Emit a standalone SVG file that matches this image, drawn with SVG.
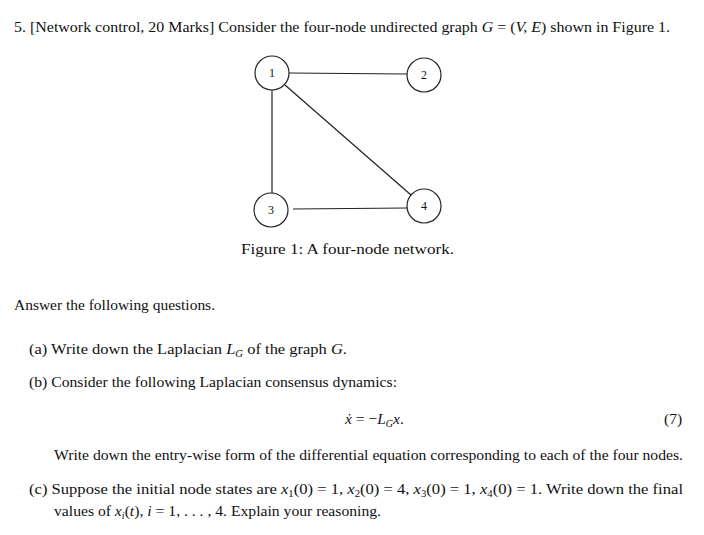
<svg xmlns="http://www.w3.org/2000/svg" width="704" height="535" viewBox="0 0 704 535">
<style>
text{font-family:"Liberation Serif","DejaVu Serif",serif;font-size:15.5px;fill:#111}
.n circle{fill:#fff;stroke:#222;stroke-width:1.2}
.n text{font-size:12px;text-anchor:middle}
.e line{stroke:#222;stroke-width:1.2}
</style>
<rect width="704" height="535" fill="#fff"/>
<text x="14" y="32" textLength="656" lengthAdjust="spacingAndGlyphs">5. [Network control, 20 Marks] Consider the four-node undirected graph <tspan font-style="italic">G</tspan> = (<tspan font-style="italic">V, E</tspan>) shown in Figure 1.</text>
<g id="connectors" class="e">
<line x1="289" y1="73" x2="407" y2="74"/>
<line x1="272" y1="90" x2="272" y2="193"/>
<line x1="285" y1="85" x2="411" y2="195"/>
<line x1="293" y1="209" x2="407" y2="208"/>
</g>
<g id="node1" class="n"><circle cx="272" cy="73" r="17"/><text x="272" y="77">1</text></g>
<g id="node2" class="n"><circle cx="424" cy="75" r="17"/><text x="424" y="79">2</text></g>
<g id="node3" class="n"><circle cx="271" cy="210" r="17"/><text x="271" y="214">3</text></g>
<g id="node4" class="n"><circle cx="424" cy="206" r="17"/><text x="424" y="210">4</text></g>
<text x="241" y="254" textLength="213" lengthAdjust="spacingAndGlyphs">Figure 1: A four-node network.</text>
<text x="14" y="310" textLength="201" lengthAdjust="spacingAndGlyphs">Answer the following questions.</text>
<text x="29" y="354" textLength="318" lengthAdjust="spacingAndGlyphs">(a) Write down the Laplacian <tspan font-style="italic">L</tspan><tspan font-style="italic" font-size="10" dy="3">G</tspan><tspan dy="-3"> of the graph </tspan><tspan font-style="italic">G</tspan>.</text>
<text x="29" y="387" textLength="368" lengthAdjust="spacingAndGlyphs">(b) Consider the following Laplacian consensus dynamics:</text>
<text x="345" y="424"><tspan font-style="italic">ẋ</tspan> = −<tspan font-style="italic">L</tspan><tspan font-style="italic" font-size="10" dy="3">G</tspan><tspan font-style="italic" dy="-3">x</tspan>.</text>
<text x="664" y="424">(7)</text>
<text x="54" y="460" textLength="629" lengthAdjust="spacingAndGlyphs">Write down the entry-wise form of the differential equation corresponding to each of the four nodes.</text>
<text x="29" y="494" textLength="654" lengthAdjust="spacingAndGlyphs">(c) Suppose the initial node states are <tspan font-style="italic">x</tspan><tspan font-size="10" dy="3">1</tspan><tspan dy="-3">(0) = 1, </tspan><tspan font-style="italic">x</tspan><tspan font-size="10" dy="3">2</tspan><tspan dy="-3">(0) = 4, </tspan><tspan font-style="italic">x</tspan><tspan font-size="10" dy="3">3</tspan><tspan dy="-3">(0) = 1, </tspan><tspan font-style="italic">x</tspan><tspan font-size="10" dy="3">4</tspan><tspan dy="-3">(0) = 1. Write down the final</tspan></text>
<text x="54" y="516" textLength="327" lengthAdjust="spacingAndGlyphs">values of <tspan font-style="italic">x</tspan><tspan font-style="italic" font-size="10" dy="3">i</tspan><tspan dy="-3">(</tspan><tspan font-style="italic">t</tspan>), <tspan font-style="italic">i</tspan> = 1, . . . , 4. Explain your reasoning.</text>
</svg>
